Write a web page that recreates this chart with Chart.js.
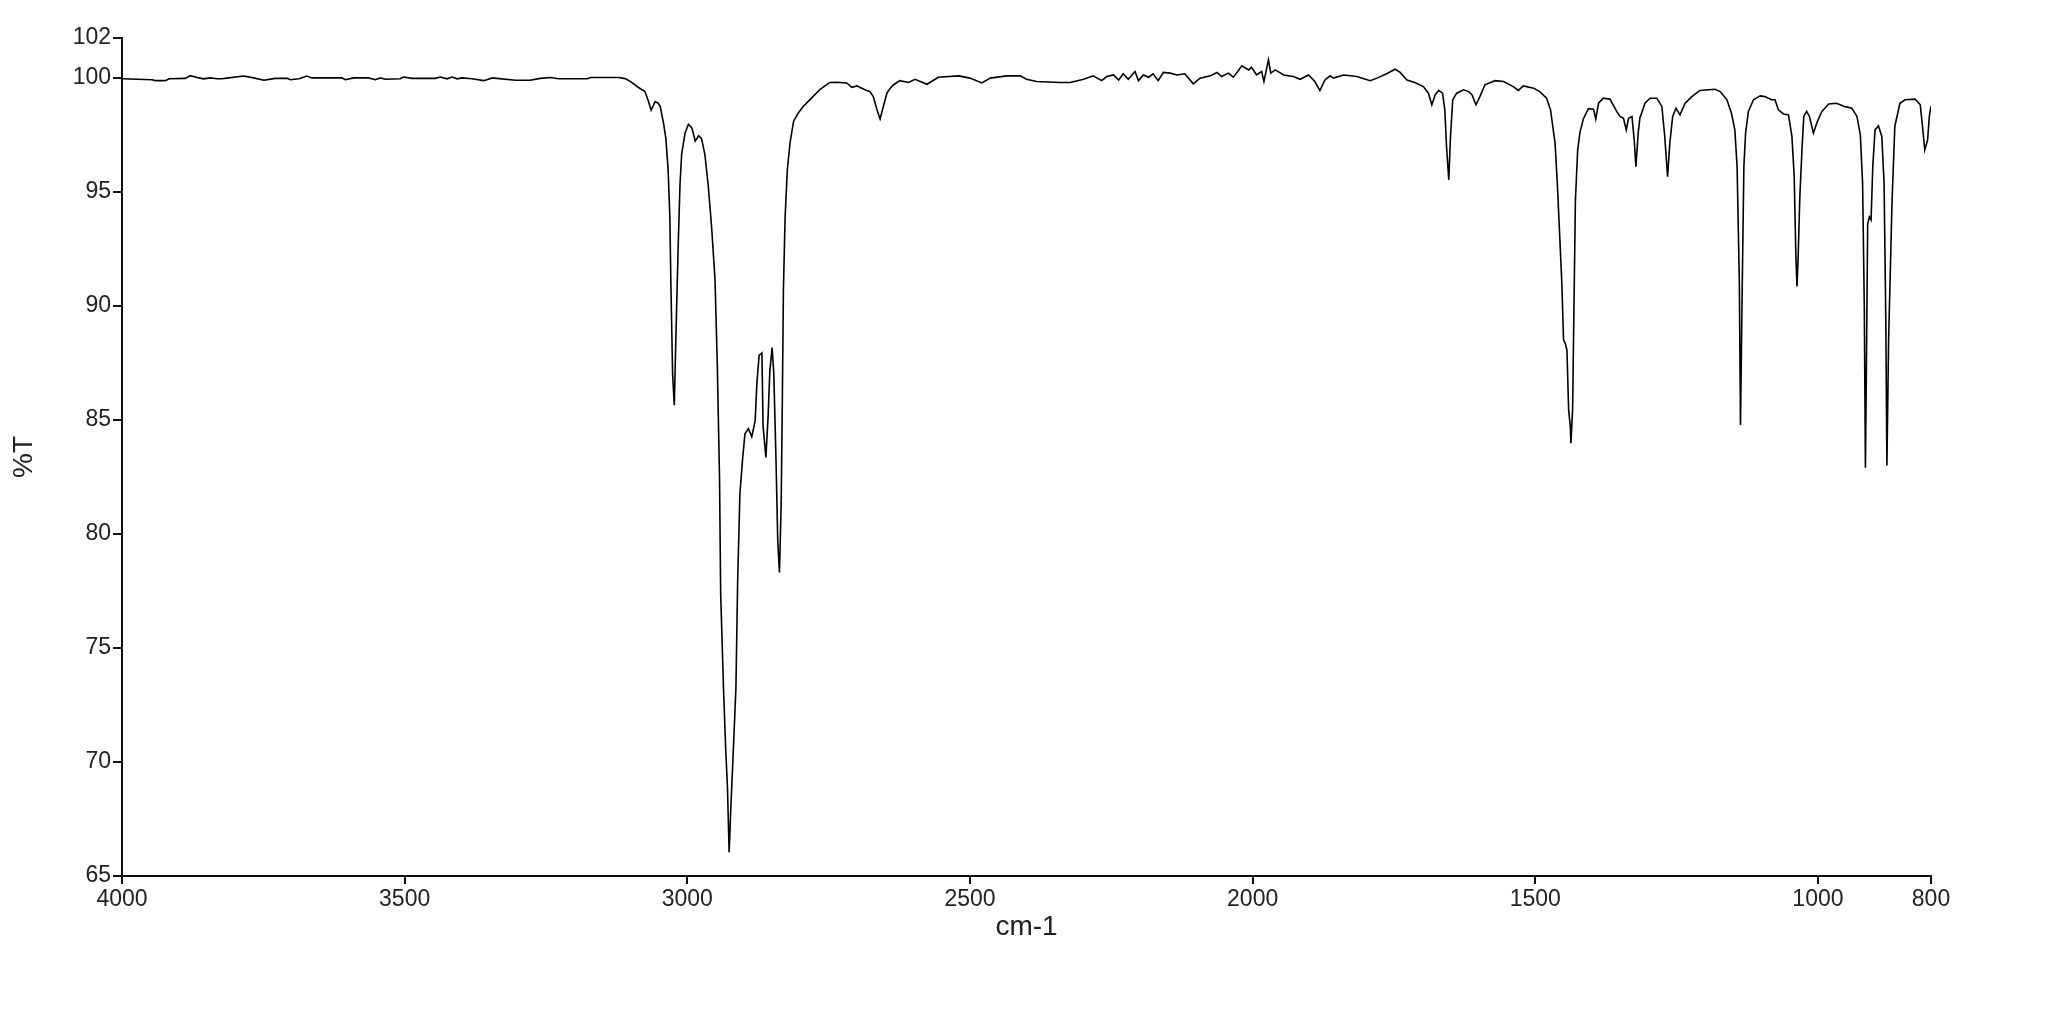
<!DOCTYPE html>
<html>
<head>
<meta charset="utf-8">
<script src="https://cdn.jsdelivr.net/npm/chart.js@4.4.1/dist/chart.umd.min.js"></script>
<style>
  html, body { margin: 0; padding: 0; background: #fff; }
  #wrap { width: 2048px; height: 1010px; position: relative; }
</style>
</head>
<body>
<div id="wrap"><canvas id="irChart"></canvas></div>
<script>
// IR spectrum, %T vs wavenumber
const wavenumbers = [
  4000, 3947, 3941, 3923, 3917, 3888, 3879, 3864, 3856, 3844, 3832, 3823, 3811, 3785, 3767, 3749,
  3729, 3708, 3702, 3687, 3673, 3664, 3611, 3605, 3590, 3564, 3552, 3543, 3534, 3508, 3502, 3487,
  3446, 3437, 3425, 3416, 3407, 3399, 3381, 3360, 3345, 3337, 3304, 3278, 3260, 3242, 3228, 3177,
  3171, 3163, 3121, 3110, 3101, 3087, 3075, 3069, 3064, 3057, 3052, 3048, 3042, 3038, 3034, 3031,
  3029, 3026, 3023, 3020, 3016, 3013, 3010, 3004, 2998, 2992, 2986, 2980, 2975, 2969, 2963, 2957,
  2951, 2947, 2943, 2941, 2936, 2932, 2929, 2926, 2923, 2919, 2914, 2911, 2907, 2902, 2898, 2892,
  2886, 2880, 2877, 2873, 2868, 2866, 2861, 2857, 2854, 2850, 2847, 2843, 2840, 2837, 2834, 2832,
  2830, 2827, 2823, 2818, 2812, 2804, 2795, 2783, 2765, 2748, 2736, 2718, 2709, 2700, 2686, 2677,
  2671, 2665, 2659, 2653, 2647, 2641, 2635, 2624, 2609, 2597, 2576, 2556, 2520, 2500, 2479, 2464,
  2435, 2411, 2400, 2382, 2341, 2323, 2299, 2282, 2267, 2258, 2246, 2237, 2229, 2220, 2208, 2202,
  2193, 2184, 2176, 2167, 2158, 2146, 2134, 2120, 2105, 2093, 2075, 2063, 2055, 2043, 2034, 2019,
  2007, 2002, 1993, 1984, 1980, 1972, 1968, 1960, 1945, 1928, 1916, 1901, 1890, 1881, 1872, 1863,
  1857, 1839, 1816, 1792, 1780, 1763, 1748, 1739, 1727, 1713, 1698, 1689, 1683, 1677, 1671, 1664,
  1660, 1657, 1653, 1650, 1646, 1639, 1627, 1618, 1612, 1605, 1598, 1589, 1571, 1556, 1539, 1530,
  1521, 1503, 1492, 1480, 1473, 1465, 1461, 1457, 1453, 1450, 1447, 1444, 1441, 1438, 1437, 1434,
  1431, 1429, 1425, 1421, 1415, 1406, 1397, 1393, 1388, 1380, 1368, 1356, 1350, 1344, 1339, 1335,
  1329, 1325, 1322, 1318, 1315, 1306, 1297, 1285, 1276, 1271, 1266, 1262, 1257, 1251, 1244, 1235,
  1223, 1209, 1194, 1182, 1173, 1161, 1153, 1147, 1143, 1139, 1137, 1134, 1131, 1128, 1123, 1114,
  1102, 1094, 1082, 1076, 1070, 1061, 1052, 1046, 1042, 1039, 1037, 1035, 1032, 1028, 1025, 1020,
  1015, 1008, 1001, 993, 981, 967, 952, 940, 931, 925, 921, 918, 916, 914, 912, 909,
  906, 903, 899, 893, 887, 883, 880, 878, 875, 869, 864, 855, 846, 828, 819, 815,
  811, 806, 803, 800
];
const transmittance = [
  99.96, 99.92, 99.88, 99.88, 99.96, 99.98, 100.1, 100.0, 99.96, 100.0, 99.96, 99.96, 100.0, 100.08, 100.0, 99.9,
  99.98, 99.98, 99.92, 99.96, 100.08, 100.0, 100.0, 99.92, 100.0, 100.0, 99.92, 100.0, 99.94, 99.96, 100.04, 99.98,
  99.98, 100.04, 99.96, 100.04, 99.96, 100.0, 99.96, 99.88, 100.0, 99.98, 99.9, 99.9, 99.98, 100.02, 99.96, 99.96,
  100.02, 100.02, 100.02, 99.97, 99.85, 99.59, 99.4, 99.0, 98.58, 98.96, 98.9, 98.75, 98.0, 97.36, 96.0, 94.0,
  90.9, 87.0, 85.65, 88.86, 92.76, 95.28, 96.66, 97.58, 97.97, 97.81, 97.23, 97.46, 97.35, 96.66, 95.28, 93.45,
  91.16, 87.48, 82.44, 77.39, 73.26, 70.51, 68.9, 66.04, 67.99, 70.28, 73.26, 77.85, 81.75, 83.36, 84.39, 84.62,
  84.27, 84.96, 86.57, 87.83, 87.94, 84.73, 83.36, 85.19, 87.14, 88.17, 87.02, 83.13, 79.68, 78.31, 81.29, 85.65,
  90.7, 93.9, 96.0, 97.2, 98.1, 98.45, 98.75, 99.05, 99.5, 99.8, 99.81, 99.78, 99.59, 99.65, 99.48, 99.4,
  99.18, 98.65, 98.2, 98.77, 99.33, 99.55, 99.7, 99.88, 99.8, 99.94, 99.72, 100.03, 100.09, 99.99, 99.78, 99.99,
  100.09, 100.09, 99.94, 99.84, 99.8, 99.8, 99.94, 100.09, 99.88, 100.06, 100.13, 99.91, 100.18, 99.94, 100.28, 99.88,
  100.13, 100.03, 100.18, 99.88, 100.24, 100.21, 100.13, 100.18, 99.74, 99.99, 100.09, 100.24, 100.06, 100.21, 100.03, 100.53,
  100.35, 100.47, 100.13, 100.28, 99.84, 100.79, 100.21, 100.35, 100.13, 100.06, 99.94, 100.13, 99.84, 99.45, 99.91, 100.09,
  99.99, 100.13, 100.06, 99.88, 99.99, 100.18, 100.38, 100.24, 99.91, 99.8, 99.62, 99.33, 98.82, 99.26, 99.45, 99.33,
  98.6, 96.99, 95.53, 97.43, 99.04, 99.33, 99.48, 99.4, 99.26, 98.82, 99.18, 99.7, 99.88, 99.84, 99.62, 99.45,
  99.65, 99.55, 99.4, 99.11, 98.6, 97.14, 95.38, 93.19, 90.99, 88.51, 88.36, 88.07, 85.44, 84.71, 83.98, 85.44,
  90.99, 94.65, 96.84, 97.6, 98.2, 98.65, 98.63, 98.2, 98.89, 99.11, 99.07, 98.53, 98.31, 98.23, 97.72, 98.23,
  98.31, 97.28, 96.11, 97.58, 98.23, 98.89, 99.11, 99.11, 98.74, 97.43, 95.67, 97.14, 98.31, 98.67, 98.38, 98.89,
  99.18, 99.45, 99.48, 99.5, 99.4, 99.04, 98.45, 97.72, 96.11, 90.99, 84.78, 90.7, 96.11, 97.58, 98.53, 99.04,
  99.21, 99.18, 99.04, 99.04, 98.6, 98.42, 98.38, 97.43, 95.67, 92.17, 90.85, 92.17, 94.8, 96.99, 98.31, 98.53,
  98.31, 97.58, 98.09, 98.53, 98.86, 98.89, 98.74, 98.67, 98.31, 97.5, 95.38, 90.0, 82.9, 88.0, 93.6, 93.9,
  93.77, 96.11, 97.72, 97.9, 97.43, 95.38, 89.5, 83.0, 88.5, 94.51, 97.87, 98.89, 99.04, 99.07, 98.82, 97.87,
  96.84, 97.28, 98.31, 98.77
];

const xTickValues = [4000, 3500, 3000, 2500, 2000, 1500, 1000, 800];
const xTickLabels = ['4000', '3500', '3000', '2500', '2000', '1500', '1000', '800'];
const yTickValues = [65, 70, 75, 80, 85, 90, 95, 100, 101.75];
const yTickLabels = ['65', '70', '75', '80', '85', '90', '95', '100', '102'];

const points = wavenumbers.map((w, i) => ({ x: w, y: transmittance[i] }));

const tickFont = { family: 'Liberation Sans, Arial, sans-serif', size: 23 };
const axisColor = '#111';

new Chart(document.getElementById('irChart').getContext('2d'), {
  type: 'line',
  data: {
    datasets: [{
      data: points,
      borderColor: '#000',
      borderWidth: 1.6,
      pointRadius: 0,
      tension: 0,
      fill: false
    }]
  },
  options: {
    responsive: true, maintainAspectRatio: false,
    animation: false,
    layout: { padding: { top: 38, right: 117, bottom: 0, left: 0 } },
    plugins: { legend: { display: false }, tooltip: { enabled: false } },
    scales: {
      x: {
        type: 'linear', reverse: true, min: 800, max: 4000,
        afterBuildTicks: s => { s.ticks = xTickValues.map(v => ({ value: v })); },
        afterFit: s => { s.height = 134; },
        grid: { drawOnChartArea: false, drawTicks: true, tickLength: 8, color: axisColor, lineWidth: 2 },
        border: { display: true, color: axisColor, width: 2 },
        ticks: { color: '#222', font: tickFont, padding: 2, maxRotation: 0, autoSkip: false,
          callback: (v, i) => xTickLabels[i] },
        title: { display: true, text: 'cm-1', color: '#222',
          font: { family: 'Liberation Sans, Arial, sans-serif', size: 28 },
          padding: { top: 0, bottom: 66 } }
      },
      y: {
        min: 65, max: 101.75,
        afterBuildTicks: s => { s.ticks = yTickValues.map(v => ({ value: v })); },
        afterFit: s => { s.width = 122; },
        grid: { drawOnChartArea: false, drawTicks: true, tickLength: 9, color: axisColor, lineWidth: 2 },
        border: { display: true, color: axisColor, width: 2 },
        ticks: { color: '#222', font: tickFont, padding: 2, autoSkip: false,
          callback: (v, i) => yTickLabels[i] },
        title: { display: true, text: '%T', color: '#222',
          font: { family: 'Liberation Sans, Arial, sans-serif', size: 28 },
          padding: { top: 7, bottom: 0 } }
      }
    }
  }
});
</script>
</body>
</html>
